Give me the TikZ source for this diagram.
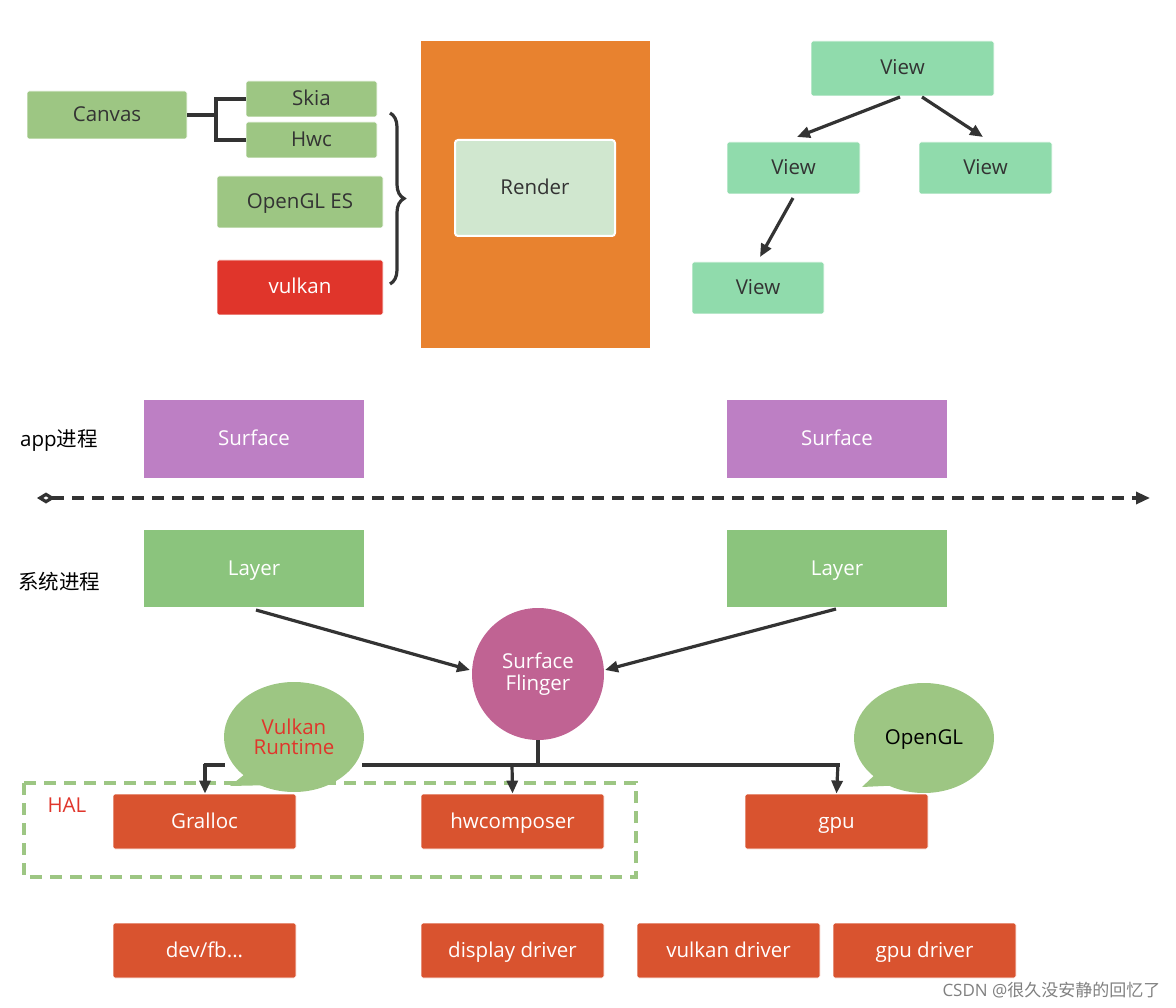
\documentclass[tikz,border=0pt]{standalone}
\usepackage{fontspec}
\setmainfont{Open Sans}
\newfontfamily\cjk{Noto Sans CJK SC}
\usetikzlibrary{arrows.meta,decorations.pathreplacing}
\definecolor{lg}{HTML}{9DC683}
\definecolor{vred}{HTML}{E0352B}
\definecolor{org}{HTML}{E8822F}
\definecolor{rnd}{HTML}{D0E7CF}
\definecolor{vw}{HTML}{90DBAC}
\definecolor{pur}{HTML}{BD7FC4}
\definecolor{lay}{HTML}{8BC47D}
\definecolor{sf}{HTML}{C06393}
\definecolor{hal}{HTML}{D9532F}
\definecolor{dk}{HTML}{333333}
\begin{document}
\begin{tikzpicture}[x=1pt,y=-1pt,
 every node/.style={font=\fontsize{20.5}{24}\selectfont,text height=16pt,text depth=3pt},
 bx/.style={draw=white,line width=0.8pt,rounded corners=2pt,text=dk,inner sep=0},
 ar/.style={draw=dk,line width=3.2pt,-{Triangle[length=13pt,width=11pt]}}]
\useasboundingbox (0,0) rectangle (1176,1008);
% top left
\node[bx,fill=lg,minimum width=160,minimum height=48] (canvas) at (107,115) {Canvas};
\node[bx,fill=lg,minimum width=131,minimum height=36] (skia) at (311.5,99) {Skia};
\node[bx,fill=lg,minimum width=131,minimum height=36] (hwc) at (311.5,140) {Hwc};
\node[bx,fill=lg,minimum width=166,minimum height=52] (ogl) at (300,202) {OpenGL ES};
\node[bx,fill=vred,text=white,minimum width=166,minimum height=55] (vk) at (300,287.5) {vulkan};
\coordinate (j) at (216,115);
\draw[dk,line width=3.2pt] (canvas.east) -- (j);
\draw[dk,line width=3.2pt] (skia.west) -- (216,99) -- (216,140) -- (hwc.west);
\node[fill=org,minimum width=229,minimum height=307,inner sep=0] (orange) at (535.5,194.5) {};
\node[draw=white,line width=2pt,rounded corners=3pt,fill=rnd,text=dk,minimum width=160,minimum height=96,inner sep=0] (render) at (535,188) {Render};
\draw[dk,line width=3.2pt,decorate,decoration={brace,amplitude=14pt}] (390,113) -- (390,284);
% views
\node[bx,fill=vw,minimum width=183,minimum height=55] (v0) at (902.5,68.5) {View};
\node[bx,fill=vw,minimum width=133,minimum height=52] (v1) at (793.5,168) {View};
\node[bx,fill=vw,minimum width=133,minimum height=52] (v2) at (985.5,168) {View};
\node[bx,fill=vw,minimum width=132,minimum height=52] (v3) at (758,288) {View};
\draw[ar] (900,97) -- (797,137);
\draw[ar] (922,97) -- (983,137);
\draw[ar] (793,198) -- (760,257);
% surfaces
\node[fill=pur,text=white,minimum width=220,minimum height=78,inner sep=0] (s1) at (254,439) {Surface};
\node[fill=pur,text=white,minimum width=220,minimum height=78,inner sep=0] (s2) at (837,439) {Surface};
\node[anchor=west,text=black,inner sep=0] (app) at (20,440) {app{\cjk 进程}};
\coordinate (d0) at (37,498); \coordinate (d1) at (1150,498);
\draw[dk,line width=3.2pt,dash pattern=on 12pt off 8pt,{Diamond[open,length=18pt,width=11pt]}-{Triangle[length=14pt,width=12pt]}] (d0) -- (d1);
\node[fill=lay,text=white,minimum width=220,minimum height=77,inner sep=0] (l1) at (254,568.5) {Layer};
\node[fill=lay,text=white,minimum width=220,minimum height=77,inner sep=0] (l2) at (837,568.5) {Layer};
\node[anchor=west,text=black,inner sep=0] (sys) at (18,583) {\cjk 系统进程};
\node[circle,fill=sf,text=white,minimum size=132,inner sep=0,align=center,text height=,text depth=] (sf) at (538,674) {Surface\\[-2pt]Flinger};
\draw[ar] (256,610) -- (470,670);
\draw[ar] (836,609) -- (605,670);
% bubbles
\fill[lg] (294,737) ellipse (70 and 55);
\fill[lg] (250,770) -- (230,786) -- (275,785) -- cycle;
\node[text=vred,align=center,text height=,text depth=] (vr) at (294,737) {Vulkan\\[-4pt]Runtime};
\fill[lg] (924,738) ellipse (70 and 55);
\fill[lg] (880,770) -- (862,787) -- (905,785) -- cycle;
\node[text=black] (glb) at (924,738) {OpenGL};
% HAL
\draw[lg,line width=3.2pt,dash pattern=on 12pt off 8pt] (24,783) rectangle (636,877);
\node[text=vred,anchor=west] (hal) at (44,806) {HAL};
\node[bx,fill=hal,text=white,minimum width=183,minimum height=55] (gr) at (204.5,821.5) {Gralloc};
\node[bx,fill=hal,text=white,minimum width=183,minimum height=55] (hw) at (512.5,821.5) {hwcomposer};
\node[bx,fill=hal,text=white,minimum width=183,minimum height=55] (gpu) at (836.5,821.5) {gpu};
\draw[dk,line width=3.2pt] (sf.south) -- (538,765);
\draw[dk,line width=3.2pt] (203.5,765) -- (225,765) (362,765) -- (839.5,765);
\draw[ar] (205,764) -- (gr.north -| 205,0);
\draw[ar] (512,764) -- (hw.north);
\draw[ar] (838,764) -- (gpu.north);
% drivers
\node[bx,fill=hal,text=white,minimum width=183,minimum height=55] (fb) at (204.5,950.5) {dev/fb...};
\node[bx,fill=hal,text=white,minimum width=183,minimum height=55] (dd) at (512.5,950.5) {display driver};
\node[bx,fill=hal,text=white,minimum width=183,minimum height=55] (vd) at (728.5,950.5) {vulkan driver};
\node[bx,fill=hal,text=white,minimum width=183,minimum height=55] (gd) at (924.5,950.5) {gpu driver};
\node[anchor=east,text=gray,font=\fontsize{17}{19}\selectfont] (wm) at (1164,990) {CSDN @{\cjk 很久没安静的回忆了}};
\end{tikzpicture}
\end{document}
